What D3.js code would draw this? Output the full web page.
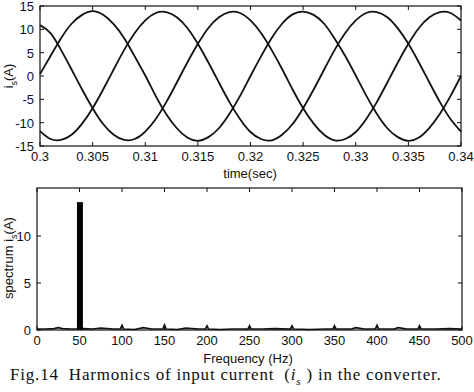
<!DOCTYPE html>
<html>
<head>
<meta charset="utf-8">
<script src="https://cdn.jsdelivr.net/npm/d3@7"></script>
<style>
  body { margin: 0; background: #fff; }
  text { font-family: "Liberation Sans", Arial, sans-serif; fill: #111; }
  .cap { font-family: "Liberation Serif", "Times New Roman", serif; white-space: pre; }
</style>
</head>
<body>
<svg id="chart" width="474" height="392"></svg>
<script>
// time axis for the current waveforms (s), one sample per ms
var timeSec = d3.range(0, 41).map(function(k){ return +(0.3 + k * 0.001).toFixed(3); });

// three phase currents (A)
var phaseA = [0.4, 4.3, 8.1, 11.2, 13.1, 13.9, 13.1, 11.1, 8.1, 4.2, 0.1,
              -4.3, -8.2, -11.2, -13.2, -13.9, -13.1, -11.2, -8.1, -4.3, 0.0,
              4.2, 8.1, 11.2, 13.2, 13.8, 13.1, 11.2, 8.0, 4.3, 0.1,
              -4.2, -8.1, -11.2, -13.1, -13.9, -13.2, -11.1, -8.1, -4.3, 0.0];
var phaseB = [10.9, 9.2, 5.6, 1.4, -2.9, -6.9, -10.3, -12.6, -13.7, -13.5,
              -11.9, -9.2, -5.6, -1.4, 2.9, 6.9, 10.3, 12.6, 13.7, 13.5,
              11.9, 9.2, 5.6, 1.5, -2.9, -6.9, -10.2, -12.6, -13.8, -13.5,
              -12.0, -9.2, -5.6, -1.4, 2.9, 6.9, 10.3, 12.6, 13.7, 13.5, 11.9];
var phaseC = [-11.8, -13.5, -13.7, -12.6, -10.2, -6.9, -2.9, 1.4, 5.6, 9.2,
              11.9, 13.5, 13.7, 12.6, 10.3, 6.9, 2.9, -1.4, -5.6, -9.2,
              -12.0, -13.5, -13.8, -12.6, -10.3, -6.9, -2.9, 1.4, 5.6, 9.2,
              11.9, 13.5, 13.7, 12.6, 10.2, 6.9, 2.9, -1.4, -5.6, -9.2, -11.9];

var timeTicks = [0.3, 0.305, 0.31, 0.315, 0.32, 0.325, 0.33, 0.335, 0.34];
var currentTicks = [-15, -10, -5, 0, 5, 10, 15];

// spectrum of the input current
var specHz  = [0, 10, 20, 25, 30, 40, 46, 55, 65, 75, 90, 98, 100, 102, 115, 125, 135,
               148, 150, 152, 165, 175, 190, 198, 200, 202, 215, 230, 245, 248, 250, 252,
               265, 280, 298, 300, 302, 320, 340, 348, 350, 352, 370, 375, 385, 398, 400,
               402, 420, 425, 435, 448, 450, 452, 470, 485, 500];
var specAmp = [0.1, 0.1, 0.15, 0.25, 0.15, 0.1, 0.1, 0.15, 0.1, 0.2, 0.1, 0.1, 0.5, 0.1, 0.05, 0.25, 0.1,
               0.1, 0.55, 0.1, 0.05, 0.2, 0.1, 0.1, 0.45, 0.1, 0.05, 0.1, 0.1, 0.1, 0.45, 0.1,
               0.1, 0.15, 0.1, 0.45, 0.1, 0.05, 0.1, 0.1, 0.45, 0.1, 0.1, 0.25, 0.1, 0.1, 0.5,
               0.1, 0.1, 0.25, 0.1, 0.1, 0.45, 0.1, 0.1, 0.15, 0.1];
// fundamental component, drawn as a solid block
var fundBand = [47, 54];
var fundAmp = 13.6;

var freqTicks = [0, 50, 100, 150, 200, 250, 300, 350, 400, 450, 500];
var specTicks = [0, 5, 10];

var svg = d3.select("#chart");
var tickLen = 4;

// draws a matlab style boxed axes with inward ticks
function boxAxes(g, x, y, xt, yt, w, h){
    g.append("rect").attr("width", w).attr("height", h)
      .attr("fill", "none").attr("stroke", "#111").attr("stroke-width", 1.2);
    xt.forEach(function(v){
        g.append("line").attr("x1", x(v)).attr("x2", x(v)).attr("y1", h).attr("y2", h - tickLen)
          .attr("stroke", "#111");
        g.append("line").attr("x1", x(v)).attr("x2", x(v)).attr("y1", 0).attr("y2", tickLen)
          .attr("stroke", "#111");
        g.append("text").attr("x", x(v)).attr("y", h + 15).attr("text-anchor", "middle")
          .style("font-size", "13px").text(String(v));
    });
    yt.forEach(function(v){
        g.append("line").attr("x1", 0).attr("x2", tickLen).attr("y1", y(v)).attr("y2", y(v))
          .attr("stroke", "#111");
        g.append("line").attr("x1", w).attr("x2", w - tickLen).attr("y1", y(v)).attr("y2", y(v))
          .attr("stroke", "#111");
        g.append("text").attr("x", -6).attr("y", y(v) + 5).attr("text-anchor", "end")
          .style("font-size", "13px").text(v);
    });
}

// upper panel: phase currents
var up = {left: 40, top: 6, w: 421, h: 140};
var gt = svg.append("g").attr("transform", "translate(" + up.left + "," + up.top + ")");
var xt = d3.scaleLinear().domain([0.3, 0.34]).range([0, up.w]);
var yt = d3.scaleLinear().domain([-15, 15]).range([up.h, 0]);

var wave = d3.line()
    .x(function(d){ return xt(d[0]); })
    .y(function(d){ return yt(d[1]); })
    .curve(d3.curveNatural);

[phaseA, phaseB, phaseC].forEach(function(ph){
    gt.append("path")
      .attr("d", wave(d3.zip(timeSec, ph)))
      .attr("fill", "none").attr("stroke", "#111").attr("stroke-width", 1.8);
});
boxAxes(gt, xt, yt, timeTicks, currentTicks, up.w, up.h);

gt.append("text").attr("x", 210).attr("y", 172).attr("text-anchor", "middle")
  .style("font-size", "13px").text("time(sec)");
var ylab1 = gt.append("text").attr("transform", "translate(-27," + 70 + ") rotate(-90)")
  .attr("text-anchor", "middle").style("font-size", "13px");
ylab1.append("tspan").text("i");
ylab1.append("tspan").attr("dy", 4).style("font-size", "9px").text("s");
ylab1.append("tspan").attr("dy", -4).text("(A)");

// lower panel: spectrum
var bot = {left: 37, top: 188, w: 425, h: 142};
var gb = svg.append("g").attr("transform", "translate(" + bot.left + "," + bot.top + ")");
var xb = d3.scaleLinear().domain([0, 500]).range([0, bot.w]);
var yb = d3.scaleLinear().domain([0, 15.1]).range([bot.h, 0]);

gb.append("path")
  .attr("d", d3.line().x(function(d){ return xb(d[0]); }).y(function(d){ return yb(d[1]); })(d3.zip(specHz, specAmp)))
  .attr("fill", "none").attr("stroke", "#111").attr("stroke-width", 1.6);
gb.append("rect")
  .attr("x", xb(fundBand[0])).attr("width", xb(fundBand[1]) - xb(fundBand[0]))
  .attr("y", yb(fundAmp)).attr("height", yb(0) - yb(fundAmp))
  .attr("fill", "#000");
boxAxes(gb, xb, yb, freqTicks, specTicks, bot.w, bot.h);

gb.append("text").attr("x", 211).attr("y", 175).attr("text-anchor", "middle")
  .style("font-size", "13px").text("Frequency (Hz)");
var ylab2 = gb.append("text").attr("transform", "translate(-24," + 70 + ") rotate(-90)")
  .attr("text-anchor", "middle").style("font-size", "13px");
ylab2.append("tspan").text("spectrum i");
ylab2.append("tspan").attr("dy", 4).style("font-size", "9px").text("s");
ylab2.append("tspan").attr("dy", -4).text("(A)");

// caption under the figure
var cap = svg.append("text").attr("class", "cap").attr("x", 10).attr("y", 380)
  .style("font-size", "17px").style("letter-spacing", "0.8px");
cap.append("tspan").text("Fig.14  Harmonics of input current  (");
cap.append("tspan").style("font-style", "italic").text("i");
cap.append("tspan").attr("dy", 5).style("font-size", "11px").style("font-style", "italic").text("s");
cap.append("tspan").attr("dy", -5).text(" ) in the converter.");
</script>
</body>
</html>
